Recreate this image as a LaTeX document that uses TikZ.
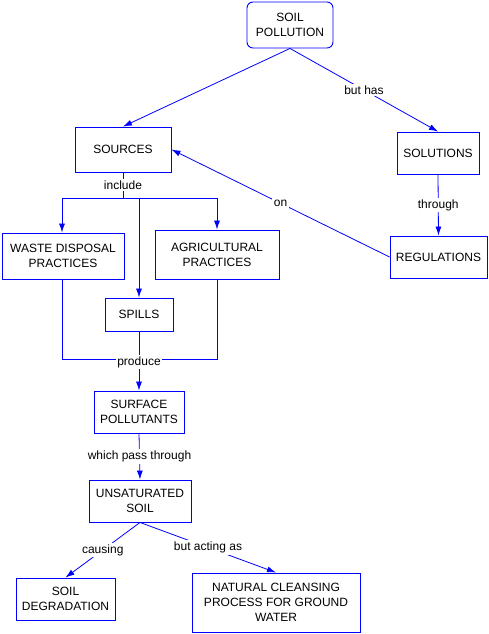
\documentclass[tikz,border=0pt]{standalone}
\usepackage{fontspec}
\setmainfont{Liberation Sans}
\usetikzlibrary{arrows.meta}
\definecolor{cmblue}{RGB}{0,0,255}
\tikzset{
  box/.style={draw=cmblue, line width=0.9pt, fill=white, align=center, inner sep=2pt,
    font=\fontsize{12}{15}\selectfont},
  lbl/.style={fill=white, inner sep=1.5pt, font=\fontsize{12}{15}\selectfont},
  link/.style={draw=cmblue, line width=0.8pt},
  arr/.style={link, -{Latex[length=9pt,width=6pt]}},
}
\begin{document}
\begin{tikzpicture}[x=1pt,y=-1pt]
\useasboundingbox (0,0) rectangle (489,634);
% nodes
\node[box, rounded corners=6pt, minimum width=86pt, minimum height=46pt] (sp) at (290,25) {SOIL\\POLLUTION};
\node[box, minimum width=96pt, minimum height=45pt] (src) at (123,149.5) {SOURCES};
\node[box, minimum width=82pt, minimum height=42pt] (sol) at (438,153) {SOLUTIONS};
\node[box, minimum width=122pt, minimum height=46pt] (waste) at (63,256) {WASTE DISPOSAL\\PRACTICES};
\node[box, minimum width=124pt, minimum height=49pt] (agri) at (217,254.5) {AGRICULTURAL\\PRACTICES};
\node[box, minimum width=68pt, minimum height=33pt] (spills) at (139,314.5) {SPILLS};
\node[box, minimum width=97pt, minimum height=42pt] (reg) at (438.5,257) {REGULATIONS};
\node[box, minimum width=90pt, minimum height=42pt] (surf) at (139,412) {SURFACE\\POLLUTANTS};
\node[box, minimum width=102pt, minimum height=42pt] (unsat) at (140,501) {UNSATURATED\\SOIL};
\node[box, minimum width=99pt, minimum height=42pt] (deg) at (65.5,599) {SOIL\\DEGRADATION};
\node[box, minimum width=168pt, minimum height=59pt] (nat) at (276,602.5) {NATURAL CLEANSING\\PROCESS FOR GROUND\\WATER};
% coordinates
\coordinate (inc) at (123,198);
\coordinate (incL) at (62,198);
\coordinate (incM) at (139,198);
\coordinate (incR) at (217,198);
\coordinate (prod) at (139,359);
\coordinate (prodL) at (62,359);
\coordinate (prodR) at (217,359);
% connectors
\draw[arr] (sp.south) -- (src.north);
\draw[arr] (sp.south) -- node[lbl]{but has} (sol.north);
\draw[arr] (sol.south) -- node[lbl]{through} (reg.north);
\draw[arr] (reg.west) -- node[lbl]{on} (src.east);
\draw[link] (src.south) -- (inc);
\draw[link] (incL) -- (incR);
\node[lbl] (inclbl) at (123,185) {include};
\draw[arr] (incL) -- (incL |- waste.north);
\draw[arr] (incM) -- (spills.north);
\draw[arr] (incR) -- (incR |- agri.north);
\draw[link] (waste.south -| prodL) -- (prodL) -- (prodR) -- (agri.south -| prodR);
\draw[link] (spills.south) -- (prod);
\draw[arr] (prod) -- (surf.north);
\node[lbl] (prodlbl) at (139,362) {produce};
\draw[arr] (surf.south) -- node[lbl]{which pass through} (unsat.north);
\draw[arr] (unsat.south) -- node[lbl]{causing} (deg.north);
\draw[arr] (unsat.south) -- node[lbl]{but acting as} (nat.north);
\end{tikzpicture}
\end{document}
